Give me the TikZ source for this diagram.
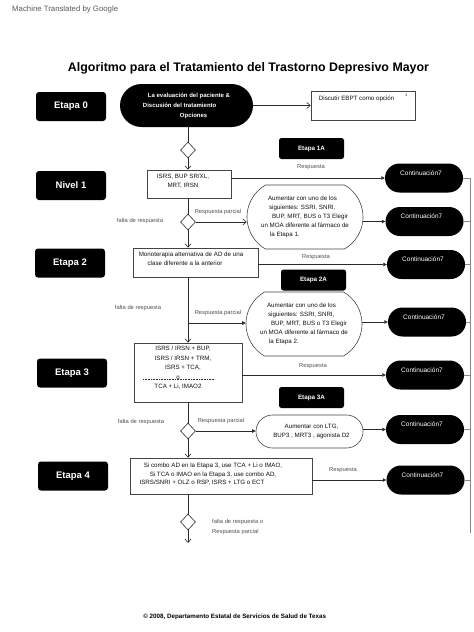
\documentclass[tikz,border=0pt]{standalone}
\usepackage{fontspec}
\setmainfont{Liberation Sans}
\usetikzlibrary{shapes.geometric,shapes.misc,arrows.meta}
\newcommand{\fsz}[2]{\fontsize{#1}{#2}\selectfont}
\definecolor{linec}{HTML}{2A2A2A}
\definecolor{boxc}{HTML}{444444}
\definecolor{lblc}{HTML}{505050}
\definecolor{railc}{HTML}{888888}
\definecolor{textc}{HTML}{111111}
\begin{document}
\begin{tikzpicture}[x=1pt,y=-1pt,
  lines/.style={draw=linec, line width=0.6pt},
  rail/.style={draw=railc, line width=0.8pt},
  openarr/.style={-{Straight Barb[length=3.5pt,width=6pt]}},
  fillarr/.style={-{Triangle[length=3.5pt,width=3.5pt]}},
  blackbox/.style={fill=black, rounded corners=3pt, text=white, font=\bfseries\fsz{9.5}{11}, minimum width=70pt, minimum height=29pt, inner sep=0pt},
  tagbox/.style={fill=black, rounded corners=2.5pt, text=white, font=\bfseries\fsz{6.3}{7.5}, minimum width=65pt, minimum height=21pt, inner sep=0pt},
  blackoval/.style={rounded rectangle, fill=black, text=white, font=\bfseries\fsz{6}{10}, minimum width=133pt, minimum height=43pt, inner sep=0pt, align=left},
  cont/.style={rounded rectangle, fill=black, minimum width=78pt, minimum height=29pt, inner sep=0pt,
     label={[text=white, font=\fsz{6.5}{8}, xshift=-3pt, yshift=5pt, inner sep=0pt]center:{Continuación7}}},
  wbox/.style={draw=boxc, line width=0.6pt, fill=white, inner sep=0pt},
  woval/.style={rounded rectangle, rounded rectangle arc length=120, draw=boxc, line width=0.6pt, fill=white, inner sep=0pt},
  btext/.style={text=textc, font=\fsz{6.2}{8.5}, inner sep=0pt, align=center},
  dia/.style={diamond, draw=linec, line width=0.6pt, fill=white, minimum width=15pt, minimum height=16pt, inner sep=0pt},
  lbl/.style={text=lblc, font=\fsz{5.8}{10}, inner sep=0pt}
]
\useasboundingbox (0,0) rectangle (474,632);

\node[text=gray!70!black, font=\fsz{7.8}{9}, anchor=west, inner sep=0pt] (mt) at (12,9) {Machine Translated by Google};
\node[font=\bfseries\fsz{12.4}{14}, inner sep=0pt] (title) at (248.5,68.5) {Algoritmo para el Tratamiento del Trastorno Depresivo Mayor};

% Stage labels (left)
\node[blackbox] (s0) at (71,106.5) {Etapa 0};
\node[blackbox] (n1) at (71,185.5) {Nivel 1};
\node[blackbox] (s2) at (70,263) {Etapa 2};
\node[blackbox] (s3) at (72,373) {Etapa 3};
\node[blackbox] (s4) at (73,476) {Etapa 4};

% Stage 0
\node[blackoval] (eval) at (186.5,105.5) {\hspace*{5pt}La evaluación del paciente \&\\Discusión del tratamiento\\\hspace*{37pt}Opciones};
\node[wbox, minimum width=104pt, minimum height=29pt,
  label={[anchor=north west, text=textc, font=\fsz{6.2}{8}, inner sep=0pt, xshift=8pt, yshift=-5pt]north west:{Discutir EBPT como opción}},
  label={[anchor=center, text=textc, font=\fsz{4}{5}, inner sep=0pt, xshift=-9pt, yshift=-4pt]north east:{1}}] (ebpt) at (363,105.5) {};
\draw[lines, openarr] (eval.east |- ebpt) -- (ebpt.west);

% Level 1
\node[dia] (d1) at (188,150) {};
\draw[lines] (eval.south -| d1) -- (d1.north);
\node[wbox, minimum width=84pt, minimum height=28pt,
  label={[btext, xshift=-6pt, yshift=3pt]center:{ISRS, BUP SR/XL,\\MRT, IRSN}}] (isrs) at (189,184) {};
\draw[lines, openarr] (d1.south) -- (d1.south |- isrs.north);
\node[tagbox] (t1a) at (311.5,148.5) {Etapa 1A};
\node[lbl] (r1) at (311,167) {Respuesta};
\node[cont] (c1) at (424,178) {};
\draw[lines, fillarr] (isrs.east |- c1) -- (c1.west);

\node[dia] (d2) at (188,222) {};
\draw[lines] (isrs.south -| d2) -- (d2.north);
\node[lbl] (rp1) at (218,212) {Respuesta parcial};
\node[lbl] (f1) at (140,221) {falta de respuesta};
\node[woval, minimum width=116pt, minimum height=64pt,
  label={[btext, align=left, font=\fsz{6.2}{9}]center:{\hspace*{7pt}Aumentar con uno de los\\\hspace*{8pt}siguientes: SSRI, SNRI,\\\hspace*{11pt}BUP, MRT, BUS o T3 Elegir\\un MOA diferente al fármaco de\\\hspace*{9pt}la Etapa 1.}}] (o1) at (305,217) {};
\draw[lines, openarr] (d2.east) -- (d2.east -| o1.west);
\node[cont] (c2) at (424.5,221.5) {};
\draw[lines, fillarr] (o1.east |- c2) -- (c2.west);

% Stage 2
\node[wbox, minimum width=125pt, minimum height=29pt,
  label={[btext, xshift=-4.5pt, yshift=3.5pt]center:{Monoterapia alternativa de AD de una\\\hspace*{-12pt}clase diferente a la anterior}}] (mono) at (195.5,262.5) {};
\draw[lines, openarr] (d2.south) -- (d2.south |- mono.north);
\node[lbl] (r2) at (316,257) {Respuesta};
\node[cont] (c3) at (426,264.5) {};
\draw[lines, fillarr] (mono.east |- c3) -- (c3.west);
\node[tagbox] (t2a) at (313.5,280) {Etapa 2A};

\coordinate (br) at (188,323);
\node[lbl] (f2) at (138,308) {falta de respuesta};
\node[lbl] (rp2) at (218,313) {Respuesta parcial};
\node[woval, minimum width=116pt, minimum height=64pt,
  label={[btext, align=left, font=\fsz{6.2}{9}]center:{\hspace*{7pt}Aumentar con uno de los\\\hspace*{8pt}siguientes: SSRI, SNRI,\\\hspace*{11pt}BUP, MRT, BUS o T3 Elegir\\un MOA diferente al fármaco de\\\hspace*{9pt}la Etapa 2.}}] (o2) at (304,324) {};
\node[cont] (c4) at (427,322) {};
\draw[lines, fillarr] (o2.east |- c4) -- (c4.west);

% Stage 3
\node[wbox, minimum width=108pt, minimum height=59pt,
  label={[btext, font=\fsz{6.2}{9.5}, xshift=-5pt, yshift=4.5pt]center:{ISRS / IRSN + BUP,\\ISRS / IRSN + TRM,\\ISRS + TCA,\\o\makebox[10pt]{}\\TCA + Li, IMAO2\makebox[10pt]{}}}] (e3) at (188,372.5) {};
\draw[lines, densely dotted] (143,379) -- (215,379);
\draw[lines, openarr] (mono.south -| br) -- (e3.north -| br);
\draw[lines, fillarr] (br) -- (br -| o2.west);
\node[lbl] (r3) at (313,366) {Respuesta};
\node[cont] (c5) at (425,375) {};
\draw[lines, fillarr] (e3.east |- c5) -- (c5.west);
\node[tagbox] (t3a) at (311.5,397.5) {Etapa 3A};

\node[dia] (d3) at (188,431) {};
\draw[lines] (e3.south -| d3) -- (d3.north);
\node[lbl] (f3) at (141,422) {falta de respuesta};
\node[lbl] (rp3) at (221,421) {Respuesta parcial};
\node[woval, rounded rectangle arc length=180, minimum width=107pt, minimum height=33pt,
  label={[btext, font=\fsz{6.2}{8.5}, xshift=2pt]center:{Aumentar con LTG,\\BUP3 , MRT3 , agonista D2}}] (o3) at (309.5,431.5) {};
\draw[lines, fillarr] (d3.east) -- (d3.east -| o3.west);
\node[cont] (c6) at (425,429.5) {};
\draw[lines, fillarr] (o3.east |- c6) -- (c6.west);

% Stage 4
\node[wbox, minimum width=182pt, minimum height=36pt,
  label={[btext, xshift=-8pt, yshift=1.5pt]center:{Si combo AD en la Etapa 3, use TCA + Li o IMAO,\\Si TCA o IMAO en la Etapa 3, use combo AD,\\ISRS/SNRI + OLZ o RSP, ISRS + LTG o ECT\makebox[22pt]{}}}] (e4) at (221,476) {};
\draw[lines, openarr] (d3.south) -- (d3.south |- e4.north);
\node[lbl] (r4) at (343,470) {Respuesta};
\node[cont] (c7) at (425.5,480) {};
\draw[lines, fillarr] (e4.east |- c7) -- (c7.west);

\node[dia] (d4) at (188,522) {};
\draw[lines] (e4.south -| d4) -- (d4.north);
\coordinate (endp) at (188,543);
\draw[lines, openarr] (d4.south) -- (endp);
\node[lbl, anchor=west, align=left] (f4) at (212,527) {falta de respuesta o\\Respuesta parcial};

% Right rail
\coordinate (rt) at (470,178);
\coordinate (rb) at (470,533);
\draw[rail] (rt) -- (rb);
\foreach \c in {c1,c2,c3,c4,c5,c6,c7} { \draw[rail] (\c.east) -- (\c.east -| rt); }

\node[font=\bfseries\fsz{6.26}{7}, inner sep=0pt] (foot) at (234.7,617) {© 2008, Departamento Estatal de Servicios de Salud de Texas};
\end{tikzpicture}
\end{document}
